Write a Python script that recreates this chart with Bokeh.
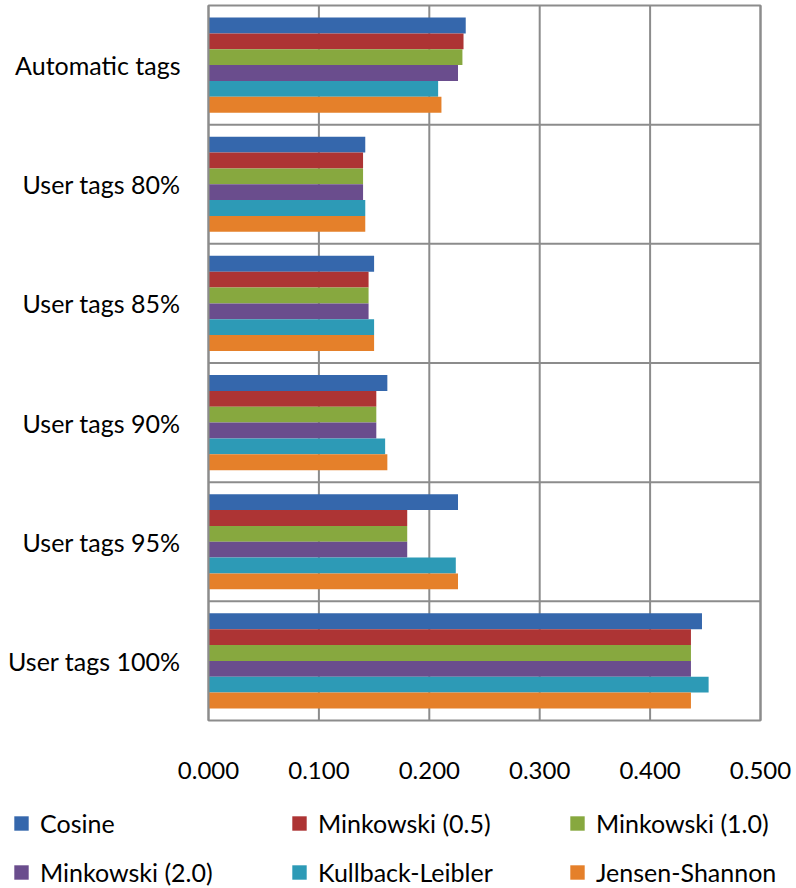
from bokeh.plotting import figure
from bokeh.models import ColumnDataSource, Legend, LegendItem, Range1d
from bokeh.core.properties import value
from bokeh.embed import file_html
from bokeh.resources import INLINE

categories = ["Automatic tags", "User tags 80%", "User tags 85%",
              "User tags 90%", "User tags 95%", "User tags 100%"]
series = ["Cosine", "Minkowski (0.5)", "Minkowski (1.0)",
          "Minkowski (2.0)", "Kullback-Leibler", "Jensen-Shannon"]
cosine = [0.233, 0.142, 0.150, 0.162, 0.226, 0.447]
mink05 = [0.231, 0.140, 0.145, 0.152, 0.180, 0.437]
mink10 = [0.230, 0.140, 0.145, 0.152, 0.180, 0.437]
mink20 = [0.226, 0.140, 0.145, 0.152, 0.180, 0.437]
kl = [0.208, 0.142, 0.150, 0.160, 0.224, 0.453]
js = [0.211, 0.142, 0.150, 0.162, 0.226, 0.437]
x_ticks = [0.0, 0.1, 0.2, 0.3, 0.4, 0.5]
colors = ["#3567AC", "#AD3434", "#87A83F", "#6A4D8D", "#2D9AB6", "#E5802A"]

FONT = value("Lato")
GRID = "#8C8C8C"

W, H = 796, 888
# pixel layout of the plotting area inside the canvas
PX_L, PX_R, PX_T, PX_B = 208, 760, 5, 720
n = len(categories)
xmin, xmax = x_ticks[0], x_ticks[-1]
kx = (PX_R - PX_L) / (xmax - xmin)          # px per x unit
ky = (PX_B - PX_T) / n                       # px per category
x_range = Range1d(xmin - PX_L / kx, xmin + (W - PX_L) / kx)
y_range = Range1d(-(H - PX_B) / ky, n + PX_T / ky)

def px_to_y(py):
    return (PX_B - py) / ky

def px_to_x(px):
    return xmin + (px - PX_L) / kx

p = figure(width=W, height=H, x_range=x_range, y_range=y_range,
           x_axis_type=None, y_axis_type=None, min_border=0,
           output_backend="svg", toolbar_location=None)
p.grid.visible = False
p.outline_line_color = None
p.background_fill_color = "white"
p.border_fill_color = "white"

centers = [n - i - 0.5 for i in range(n)]
data = {"cat": categories, "yc": centers}
for name, vals in zip(series, [cosine, mink05, mink10, mink20, kl, js]):
    data[name] = vals
src = ColumnDataSource(data)

# grid lines and frame
p.segment(x0=x_ticks, y0=[0] * len(x_ticks), x1=x_ticks, y1=[n] * len(x_ticks),
          line_color=GRID, line_width=2)
p.segment(x0=[xmin] * (n - 1), y0=list(range(1, n)), x1=[xmax] * (n - 1),
          y1=list(range(1, n)), line_color=GRID, line_width=2)

bar_h = 0.133
items = []
for i, (name, col) in enumerate(zip(series, colors)):
    off = (2.5 - i) * bar_h
    ys = [c + off for c in centers]
    s = ColumnDataSource({"y": ys, "right": data[name]})
    r = p.hbar(y="y", right="right", left=0, height=bar_h, source=s,
               fill_color=col, line_color=None)
    items.append(LegendItem(label=name, renderers=[r]))

p.quad(left=xmin, right=xmax, bottom=0, top=n, fill_color=None,
       line_color=GRID, line_width=2)

# category labels
p.text(x=px_to_x(180), y="yc", text="cat", source=src, text_font=FONT,
       text_font_size=value("25px"), text_align="right",
       text_baseline="middle", text_color="black")

# x tick labels
p.text(x=x_ticks, y=[px_to_y(770)] * len(x_ticks),
       text=[f"{t:.3f}" for t in x_ticks], text_font=FONT,
       text_font_size=value("24px"), text_align="center",
       text_baseline="middle", text_color="black")

legend = Legend(items=items, ncols=3, orientation="horizontal",
                location=(12, 1), margin=0, padding=0,
                glyph_width=18, glyph_height=18, label_standoff=10,
                label_width=231, label_height=26, spacing=19,
                label_text_font="Lato", label_text_font_size="25px",
                label_text_color="black", border_line_color=None,
                background_fill_alpha=0)
p.add_layout(legend, "center")

open("out.html", "w").write(file_html(p, INLINE))
